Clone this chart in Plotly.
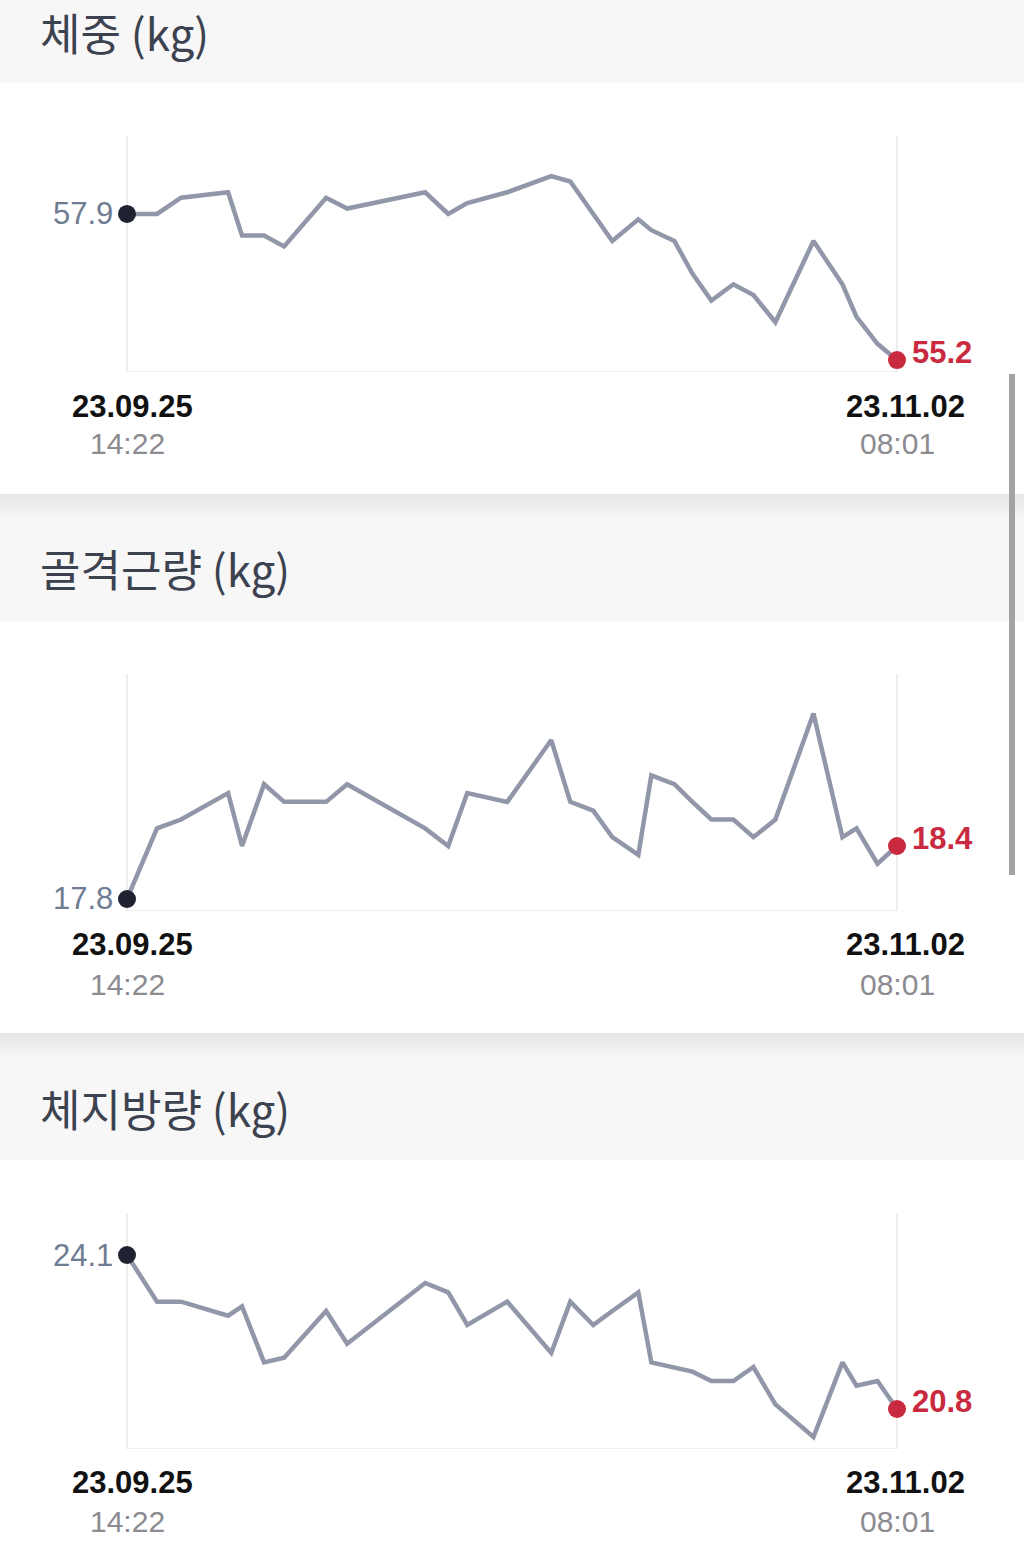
import plotly.graph_objects as go
from datetime import datetime

W, H = 1024, 1543

# measurement times (same for all three panels)
dates = [
    "2023-09-25 14:22", "2023-09-27 01:40", "2023-09-28 05:58", "2023-09-30 13:16",
    "2023-10-01 05:40", "2023-10-02 07:34", "2023-10-03 07:10", "2023-10-05 08:34",
    "2023-10-06 09:16", "2023-10-10 05:04", "2023-10-11 08:10", "2023-10-12 06:34",
    "2023-10-14 05:34", "2023-10-16 09:22", "2023-10-17 07:46", "2023-10-18 10:46",
    "2023-10-19 09:10", "2023-10-20 15:46", "2023-10-21 07:04", "2023-10-22 10:10",
    "2023-10-23 07:22", "2023-10-24 05:40", "2023-10-25 07:34", "2023-10-26 07:10",
    "2023-10-27 08:58", "2023-10-29 05:46", "2023-10-30 15:52", "2023-10-31 08:22",
    "2023-11-01 09:04", "2023-11-02 08:01",
]
weight = [57.9, 57.9, 58.2, 58.3, 57.5, 57.5, 57.3, 58.2, 58.0, 58.3,
          57.9, 58.1, 58.3, 58.6, 58.5, 57.9, 57.4, 57.8, 57.6, 57.4,
          56.8, 56.3, 56.6, 56.4, 55.9, 57.4, 56.6, 56.0, 55.5, 55.2]
muscle = [17.8, 18.6, 18.7, 19.0, 18.4, 19.1, 18.9, 18.9, 19.1, 18.6,
          18.4, 19.0, 18.9, 19.6, 18.9, 18.8, 18.5, 18.3, 19.2, 19.1,
          18.9, 18.7, 18.7, 18.5, 18.7, 19.9, 18.5, 18.6, 18.2, 18.4]
fat = [24.1, 23.1, 23.1, 22.8, 23.0, 21.8, 21.9, 22.9, 22.2, 23.5,
       23.3, 22.6, 23.1, 22.0, 23.1, 22.6, 22.9, 23.3, 21.8, 21.7,
       21.6, 21.4, 21.4, 21.7, 20.9, 20.2, 21.8, 21.3, 21.4, 20.8]
titles = ["체중 (kg)", "골격근량 (kg)", "체지방량 (kg)"]
series = [weight, muscle, fat]

# layout per panel (pixel positions measured from the top of the page)
panels = [
    dict(header=(0, 83), title_y=32, plot=(136, 372), yrange=[54.98, 59.34], date_y=406, time_y=444),
    dict(header=(494, 621), title_y=568, plot=(674, 911), yrange=[17.664, 20.348], date_y=944, time_y=984),
    dict(header=(1033, 1160), title_y=1108, plot=(1213, 1449), yrange=[19.943, 25.0], date_y=1482, time_y=1521),
]

LINE = "#9197a9"
DARK = "#1e2231"
RED = "#c92a40"
BORDER = "#eeeeee"
NUM_FONT = "Liberation Sans"
KR_FONT = "Noto Sans CJK KR"

X0, X1, PAD = 127, 897, 14  # plot frame in px, plus room for the end markers


def py(px):
    return 1 - px / H


times = [datetime.strptime(d, "%Y-%m-%d %H:%M") for d in dates]
span = times[-1] - times[0]
pad_t = span * (PAD / (X1 - X0))

fig = go.Figure()
shapes = []
annotations = []

for i, (vals, title, p) in enumerate(zip(series, titles, panels)):
    n = "" if i == 0 else str(i + 1)
    xa, ya = "x" + n, "y" + n

    # header band
    top, bot = p["header"]
    shapes.append(dict(type="rect", xref="paper", yref="paper", x0=0, x1=1,
                       y0=py(bot), y1=py(top), fillcolor="#f7f7f7", line_width=0, layer="below"))
    if top > 0:
        for k in range(8):
            shapes.append(dict(type="rect", xref="paper", yref="paper", x0=0, x1=1,
                               y0=py(top + 3 * (k + 1)), y1=py(top),
                               fillcolor="#000000", opacity=0.006, line_width=0, layer="below"))
    annotations.append(dict(xref="paper", yref="paper", x=38 / W, y=py(p["title_y"]),
                            xanchor="left", yanchor="middle", text=title, showarrow=False,
                            font=dict(family=KR_FONT, size=44, color="#3d4250")))

    # frame: left, right and bottom lines
    ylo, yhi = p["yrange"]
    for x in (times[0], times[-1]):
        shapes.append(dict(type="line", xref=xa, yref=ya, x0=x, x1=x, y0=ylo, y1=yhi,
                           line=dict(color=BORDER, width=2), layer="below"))
    shapes.append(dict(type="line", xref=xa, yref=ya, x0=times[0], x1=times[-1], y0=ylo, y1=ylo,
                       line=dict(color=BORDER, width=2), layer="below"))

    fig.add_trace(go.Scatter(x=times, y=vals, mode="lines", xaxis=xa, yaxis=ya,
                             line=dict(color=LINE, width=4.5), hoverinfo="skip"))
    fig.add_trace(go.Scatter(x=[times[0]], y=[vals[0]], mode="markers", xaxis=xa, yaxis=ya,
                             marker=dict(color=DARK, size=18)))
    fig.add_trace(go.Scatter(x=[times[-1]], y=[vals[-1]], mode="markers", xaxis=xa, yaxis=ya,
                             marker=dict(color=RED, size=18)))

    # first / last value labels
    annotations.append(dict(xref=xa, yref=ya, x=times[0], y=vals[0], text=f"{vals[0]:.1f}",
                            xanchor="right", yanchor="middle", xshift=-12, showarrow=False,
                            font=dict(family=NUM_FONT, size=31, color="#6f7c92")))
    annotations.append(dict(xref=xa, yref=ya, x=times[-1], y=vals[-1], text=f"<b>{vals[-1]:.1f}</b>",
                            xanchor="left", yanchor="middle", xshift=13, yshift=8, showarrow=False,
                            font=dict(family=NUM_FONT, size=31, color=RED)))

    # date / time labels under the ends
    for t, dx_date in ((times[0], 5), (times[-1], 8)):
        annotations.append(dict(xref=xa, yref="paper", x=t, y=py(p["date_y"]),
                                text="<b>" + t.strftime("%y.%m.%d") + "</b>", xshift=dx_date,
                                xanchor="center", yanchor="middle", showarrow=False,
                                font=dict(family=NUM_FONT, size=31, color="#111111")))
        annotations.append(dict(xref=xa, yref="paper", x=t, y=py(p["time_y"]),
                                text=t.strftime("%H:%M"), xanchor="center", yanchor="middle",
                                showarrow=False, font=dict(family=NUM_FONT, size=30, color="#8b8b90")))

    fig.layout["xaxis" + n] = dict(domain=[(X0 - PAD) / W, (X1 + PAD) / W],
                                   range=[times[0] - pad_t, times[-1] + pad_t],
                                   anchor=ya, visible=False, fixedrange=True)
    fig.layout["yaxis" + n] = dict(domain=[py(p["plot"][1]), py(p["plot"][0])], range=p["yrange"],
                                   anchor=xa, visible=False, fixedrange=True)

# scroll bar at the right edge
shapes.append(dict(type="rect", xref="paper", yref="paper", x0=1009 / W, x1=1015 / W,
                   y0=py(875), y1=py(374), fillcolor="#a3a3a3", line_width=0))

fig.update_layout(width=W, height=H, margin=dict(l=0, r=0, t=0, b=0),
                  paper_bgcolor="white", plot_bgcolor="rgba(0,0,0,0)", showlegend=False,
                  shapes=shapes, annotations=annotations)

fig.write_html("out.html", config={"displayModeBar": False},
               post_script="document.body.style.margin='0px';")
